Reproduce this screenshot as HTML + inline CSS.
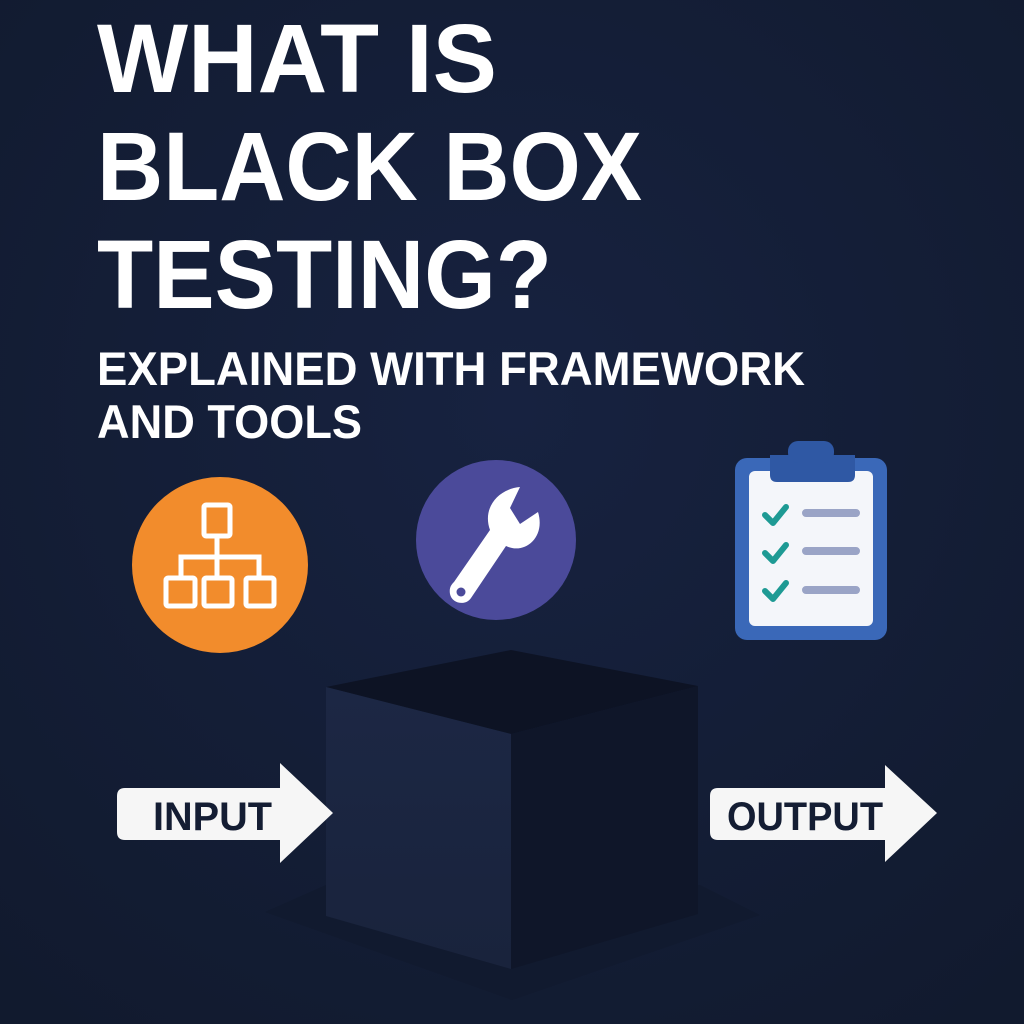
<!DOCTYPE html>
<html><head><meta charset="utf-8"><style>html,body{margin:0;padding:0;background:#141d33}svg{display:block}</style></head>
<body>
<svg width="1024" height="1024" viewBox="0 0 1024 1024" xmlns="http://www.w3.org/2000/svg">
<defs>
<radialGradient id="bg" cx="50%" cy="40%" r="75%"><stop offset="0" stop-color="#172240"/><stop offset="1" stop-color="#111a2e"/></radialGradient>
<linearGradient id="lf" x1="0" y1="0" x2="0" y2="1"><stop offset="0" stop-color="#1c2744"/><stop offset="1" stop-color="#19233c"/></linearGradient>
</defs>
<rect width="1024" height="1024" fill="url(#bg)"/>
<g font-family="Liberation Sans, sans-serif" fill="#fff">
<text x="97" y="92" font-size="97" font-weight="bold" textLength="400" lengthAdjust="spacingAndGlyphs">WHAT IS</text>
<text x="97" y="200" font-size="97" font-weight="bold" textLength="545" lengthAdjust="spacingAndGlyphs">BLACK BOX</text>
<text x="97" y="308" font-size="97" font-weight="bold" textLength="455" lengthAdjust="spacingAndGlyphs">TESTING?</text>
<text x="97" y="385" font-size="47" font-weight="bold" textLength="708" lengthAdjust="spacingAndGlyphs">EXPLAINED WITH FRAMEWORK</text>
<text x="97" y="438" font-size="47" font-weight="bold" textLength="265" lengthAdjust="spacingAndGlyphs">AND TOOLS</text>
</g>
<!-- orange -->
<circle cx="220" cy="565" r="88" fill="#f28c2c"/>
<g fill="none" stroke="#fff" stroke-width="5">
<rect x="204" y="505" width="26" height="31" rx="2"/>
<path d="M217 536V557M181 578V557H259V578M217 557V578"/>
<rect x="166" y="578" width="29" height="28" rx="2"/>
<rect x="204" y="578" width="28" height="28" rx="2"/>
<rect x="246" y="578" width="28" height="28" rx="2"/>
</g>
<!-- purple -->
<circle cx="496" cy="540" r="80" fill="#4b4a9a"/>
<path d="M520 487 L510 508 L520 524 L538 512 C546 538 524 555 506 546 L471 598 C466 606 452 604 450 594 C449 588 451 585 454 582 L490 530 C482 508 498 489 520 487 Z" fill="#fff"/>
<circle cx="461" cy="592" r="4.5" fill="#4b4a9a"/>
<!-- clipboard -->
<rect x="735" y="458" width="152" height="182" rx="12" fill="#3a68b8"/>
<rect x="749" y="471" width="124" height="155" rx="6" fill="#f4f6fa"/>
<path d="M770 455 H855 V475 Q855 482 848 482 H777 Q770 482 770 475 Z" fill="#2f58a4"/>
<rect x="788" y="441" width="46" height="22" rx="10" fill="#2f58a4"/>
<g fill="none" stroke="#1e9a94" stroke-width="6" stroke-linecap="round" stroke-linejoin="round">
<path d="M765 515 L773 523 L786 507"/><path d="M765 553 L773 561 L786 545"/><path d="M765 591 L773 599 L786 583"/>
</g>
<g stroke="#9aa4c6" stroke-width="8" stroke-linecap="round"><path d="M806 513H856M806 551H856M806 590H856"/></g>
<!-- cube -->
<polygon points="265,912 326,885 700,885 760,915 512,1000" fill="#111a2d" opacity="0.7"/>
<polygon points="326,687 511,650 698,686 511,734" fill="#0d1324"/>
<polygon points="326,687 511,734 511,969 326,916" fill="url(#lf)"/>
<polygon points="511,734 698,686 698,914 511,969" fill="#0f1629"/>
<!-- arrows -->
<path d="M125 788 H280 V763 L333 813 L280 863 V840 H125 Q117 840 117 832 V796 Q117 788 125 788 Z" fill="#f6f6f6"/>
<text x="153" y="830" font-family="Liberation Sans, sans-serif" font-weight="bold" font-size="40" fill="#141d33" textLength="119" lengthAdjust="spacingAndGlyphs">INPUT</text>
<path d="M718 788 H885 V765 L937 813 L885 862 V840 H718 Q710 840 710 832 V796 Q710 788 718 788 Z" fill="#f6f6f6"/>
<text x="727" y="830" font-family="Liberation Sans, sans-serif" font-weight="bold" font-size="40" fill="#141d33" textLength="156" lengthAdjust="spacingAndGlyphs">OUTPUT</text>
</svg>
</body></html>
